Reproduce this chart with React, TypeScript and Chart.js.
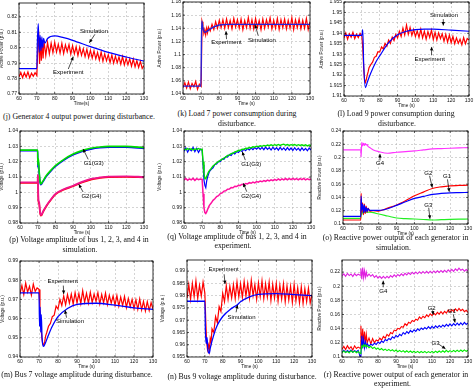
import React, { useEffect, useRef } from "react";
import { Chart, registerables } from "chart.js";
Chart.register(...registerables);
Chart.defaults.font.family = '"Liberation Sans", Arial, sans-serif';

// ---------- shared experiment time grid (s) ----------
const TE = [60, 61, 62, 63, 64, 65, 66, 67, 68, 69,
  70, 70.5, 71, 71.5, 72, 72.5, 73, 73.5, 74,
  75, 76, 77, 78, 79, 80, 81, 82, 83, 84,
  85, 86, 87, 88, 89, 90, 91, 92, 93, 94,
  95, 96, 97, 98, 99, 100, 101, 102, 103, 104,
  105, 106, 107, 108, 109, 110, 111, 112, 113, 114,
  115, 116, 117, 118, 119, 120, 121, 122, 123, 124,
  125, 126, 127, 128, 129, 130];

// ---------- (j) generator 4 output power ----------
const TS_J = [60, 70, 70.2, 70.8, 71.3, 71.8, 72.3, 72.8, 73.3, 73.8, 74.5, 76, 80, 85, 90, 100, 110, 120, 130];
const SIM_J = [0.7865, 0.7865, 0.800, 0.8157, 0.797, 0.808, 0.798, 0.807, 0.800, 0.806, 0.803, 0.806, 0.8077, 0.8065, 0.8048, 0.8007, 0.7970, 0.7940, 0.7913];
const EXP_J = [0.7812, 0.7840, 0.7806, 0.7838, 0.7810, 0.7843, 0.7804, 0.7835, 0.7815, 0.7838,
  0.7820, 0.8000, 0.8105, 0.7895, 0.8065, 0.7915, 0.8050, 0.7930, 0.8045,
  0.7950, 0.8035, 0.7960, 0.8030, 0.7968, 0.8034, 0.7972, 0.8022, 0.7965, 0.8028,
  0.7962, 0.8018, 0.7974, 0.8021, 0.7958, 0.8012, 0.7960, 0.8006, 0.7949, 0.8003,
  0.7951, 0.7994, 0.7942, 0.7990, 0.7936, 0.7983, 0.7933, 0.7980, 0.7928, 0.7969,
  0.7920, 0.7972, 0.7913, 0.7960, 0.7915, 0.7955, 0.7904, 0.7953, 0.7900, 0.7946,
  0.7902, 0.7941, 0.7893, 0.7943, 0.7888, 0.7932, 0.7889, 0.7928, 0.7880, 0.7926,
  0.7876, 0.7917, 0.7872, 0.7912, 0.7866, 0.7885];

// ---------- (k) load 7 ----------
const TS_K = [60, 69.9, 70.3, 71, 72, 73, 75, 77, 80, 85, 90, 130];
const SIM_K = [1.052, 1.052, 1.151, 1.140, 1.134, 1.135, 1.139, 1.142, 1.145, 1.146, 1.146, 1.146];
const EXP_K = [1.050, 1.057, 1.049, 1.058, 1.048, 1.056, 1.051, 1.059, 1.047, 1.055,
  1.052, 1.150, 1.143, 1.132, 1.138, 1.130, 1.140, 1.133, 1.142,
  1.136, 1.146, 1.138, 1.150, 1.140, 1.152, 1.141, 1.153, 1.140, 1.154,
  1.141, 1.152, 1.139, 1.155, 1.142, 1.153, 1.140, 1.154, 1.138, 1.152,
  1.141, 1.156, 1.140, 1.153, 1.139, 1.155, 1.141, 1.152, 1.138, 1.154,
  1.140, 1.153, 1.142, 1.156, 1.139, 1.152, 1.140, 1.155, 1.138, 1.153,
  1.141, 1.154, 1.139, 1.152, 1.140, 1.156, 1.138, 1.153, 1.141, 1.154,
  1.139, 1.152, 1.140, 1.155, 1.138, 1.150];

// ---------- (l) load 9 ----------
const TS_L = [60, 70, 70.5, 71, 72, 73, 75, 78, 80, 85, 90, 95, 100, 105, 110, 120, 130];
const SIM_L = [1.9390, 1.9390, 1.9418, 1.9260, 1.9140, 1.9165, 1.9210, 1.9265, 1.9292, 1.9355, 1.9393, 1.9410, 1.9418, 1.9420, 1.9420, 1.9415, 1.9410];
const EXP_L = [1.9378, 1.9402, 1.9372, 1.9398, 1.9381, 1.9405, 1.9375, 1.9396, 1.9380, 1.9400,
  1.9385, 1.9330, 1.9240, 1.9175, 1.9165, 1.9180, 1.9200, 1.9215, 1.9235,
  1.9250, 1.9262, 1.9285, 1.9290, 1.9312, 1.9310, 1.9335, 1.9325, 1.9352, 1.9338,
  1.9368, 1.9352, 1.9382, 1.9365, 1.9395, 1.9378, 1.9410, 1.9385, 1.9425, 1.9392,
  1.9440, 1.9395, 1.9428, 1.9390, 1.9418, 1.9385, 1.9412, 1.9380, 1.9420, 1.9378,
  1.9410, 1.9372, 1.9408, 1.9380, 1.9415, 1.9370, 1.9405, 1.9368, 1.9402, 1.9375,
  1.9398, 1.9362, 1.9395, 1.9358, 1.9392, 1.9355, 1.9385, 1.9350, 1.9378, 1.9352,
  1.9372, 1.9345, 1.9380, 1.9350, 1.9375, 1.9368];

// ---------- (p) bus voltages, simulation ----------
const TS_P = [60, 70, 70.05, 70.4, 70.8, 71.3, 71.7, 72.2, 73, 75, 77.5, 80, 85, 90, 95, 100, 105, 110, 120, 130];
const P_G1 = [1.0275, 1.0275, 1.018, 1.022, 1.014, 1.0075, 1.0055, 1.006, 1.0075, 1.0111, 1.0145, 1.0174, 1.0217, 1.025, 1.0272, 1.0287, 1.0296, 1.0300, 1.0300, 1.0291];
const P_G3 = [1.0272, 1.0272, 1.0165, 1.020, 1.0125, 1.0065, 1.005, 1.0055, 1.007, 1.0106, 1.014, 1.0169, 1.0212, 1.0245, 1.0267, 1.0282, 1.0291, 1.0295, 1.0295, 1.0286];
const P_G2 = [1.0065, 1.0065, 1.0115, 0.995, 0.9935, 0.9875, 0.9853, 0.9855, 0.9875, 0.9915, 0.9955, 0.999, 1.0022, 1.0043, 1.0068, 1.0087, 1.0097, 1.0103, 1.0104, 1.0100];
const P_G4 = [1.0062, 1.0062, 1.0105, 0.994, 0.9925, 0.9868, 0.9848, 0.9851, 0.9871, 0.9911, 0.9951, 0.9986, 1.0018, 1.0039, 1.0064, 1.0083, 1.0093, 1.0099, 1.0100, 1.0097];

// ---------- (q) bus voltages, experiment ----------
const Q_G1 = [1.0282, 1.0278, 1.0285, 1.0279, 1.0284, 1.0277, 1.0283, 1.0280, 1.0286, 1.0279,
  1.0281, 1.0200, 1.0120, 1.0090, 1.0088, 1.0105, 1.0118, 1.0132, 1.0141,
  1.0156, 1.0172, 1.0181, 1.0193, 1.0200, 1.0209, 1.0215, 1.0224, 1.0230, 1.0241,
  1.0243, 1.0253, 1.0255, 1.0263, 1.0266, 1.0274, 1.0273, 1.0281, 1.0280, 1.0287,
  1.0286, 1.0292, 1.0290, 1.0297, 1.0295, 1.0301, 1.0298, 1.0304, 1.0300, 1.0306,
  1.0302, 1.0308, 1.0304, 1.0310, 1.0305, 1.0311, 1.0306, 1.0312, 1.0306, 1.0311,
  1.0314, 1.0307, 1.0312, 1.0306, 1.0311, 1.0307, 1.0312, 1.0305, 1.0311, 1.0306,
  1.0310, 1.0304, 1.0310, 1.0303, 1.0309, 1.0305];
const Q_G3 = [1.0268, 1.0290, 1.0262, 1.0284, 1.0271, 1.0293, 1.0265, 1.0287, 1.0260, 1.0282,
  1.0275, 1.0180, 1.0080, 1.0045, 1.0030, 1.0075, 1.0100, 1.0118, 1.0135,
  1.0150, 1.0160, 1.0182, 1.0185, 1.0202, 1.0200, 1.0218, 1.0215, 1.0233, 1.0230,
  1.0246, 1.0240, 1.0257, 1.0250, 1.0266, 1.0260, 1.0274, 1.0266, 1.0281, 1.0272,
  1.0286, 1.0276, 1.0289, 1.0279, 1.0292, 1.0281, 1.0294, 1.0280, 1.0293, 1.0278,
  1.0295, 1.0280, 1.0292, 1.0276, 1.0294, 1.0279, 1.0291, 1.0275, 1.0293, 1.0277,
  1.0290, 1.0274, 1.0292, 1.0276, 1.0289, 1.0273, 1.0291, 1.0275, 1.0288, 1.0272,
  1.0290, 1.0274, 1.0287, 1.0271, 1.0289, 1.0276];
const Q_G2 = [1.0082, 1.0090, 1.0079, 1.0088, 1.0081, 1.0091, 1.0078, 1.0089, 1.0083, 1.0087,
  1.0084, 0.9990, 0.9900, 0.9868, 0.9862, 0.9872, 0.9888, 0.9902, 0.9915,
  0.9930, 0.9948, 0.9958, 0.9972, 0.9978, 0.9992, 0.9996, 1.0008, 1.0010, 1.0020,
  1.0021, 1.0031, 1.0030, 1.0040, 1.0038, 1.0046, 1.0045, 1.0053, 1.0050, 1.0058,
  1.0055, 1.0063, 1.0059, 1.0067, 1.0062, 1.0070, 1.0066, 1.0074, 1.0069, 1.0077,
  1.0072, 1.0080, 1.0074, 1.0082, 1.0076, 1.0084, 1.0078, 1.0087, 1.0080, 1.0088,
  1.0081, 1.0090, 1.0082, 1.0089, 1.0083, 1.0091, 1.0083, 1.0090, 1.0082, 1.0089,
  1.0083, 1.0091, 1.0081, 1.0088, 1.0082, 1.0087];

// ---------- (o) reactive power, simulation ----------
const TS_O = [60, 70, 70.15, 70.5, 71, 71.5, 72, 72.5, 73, 73.5, 74, 75, 77, 80, 85, 90, 95, 100, 105, 110, 115, 120, 125, 130];
const O_G1 = [0.1115, 0.1115, 0.142, 0.121, 0.130, 0.117, 0.128, 0.118, 0.125, 0.119, 0.123, 0.1205, 0.1205, 0.1205, 0.123, 0.128, 0.1335, 0.1385, 0.1415, 0.1445, 0.146, 0.147, 0.1473, 0.1475];
const O_G2 = [0.106, 0.106, 0.146, 0.118, 0.132, 0.114, 0.130, 0.116, 0.127, 0.118, 0.124, 0.1195, 0.120, 0.1195, 0.124, 0.1285, 0.135, 0.1425, 0.148, 0.1535, 0.156, 0.1575, 0.158, 0.1585];
const O_G3 = [0.1085, 0.1085, 0.122, 0.114, 0.1195, 0.116, 0.119, 0.117, 0.1185, 0.1175, 0.118, 0.118, 0.117, 0.115, 0.112, 0.109, 0.108, 0.1075, 0.1068, 0.106, 0.1065, 0.107, 0.1073, 0.1075];
const O_G4 = [0.2115, 0.2115, 0.201, 0.223, 0.2175, 0.2215, 0.2185, 0.221, 0.219, 0.2195, 0.217, 0.215, 0.2115, 0.209, 0.2065, 0.208, 0.209, 0.210, 0.2115, 0.213, 0.2135, 0.214, 0.2145, 0.215];

// ---------- (m) bus 7 voltage ----------
const TS_M = [60, 70, 70.3, 70.6, 70.9, 71.2, 71.6, 72.3, 73, 75, 77, 80, 85, 90, 100, 110, 120, 130];
const SIM_M = [0.9734, 0.9734, 0.956, 0.966, 0.953, 0.962, 0.950, 0.9455, 0.9465, 0.9515, 0.956, 0.961, 0.9653, 0.9674, 0.968, 0.967, 0.9656, 0.9648];
const EXP_M = [0.9730, 0.9772, 0.9725, 0.9785, 0.9738, 0.9768, 0.9722, 0.9780, 0.9742, 0.9760,
  0.9752, 0.9650, 0.9560, 0.9500, 0.9470, 0.9462, 0.9480, 0.9510, 0.9525,
  0.9560, 0.9575, 0.9610, 0.9618, 0.9665, 0.9650, 0.9700, 0.9668, 0.9718, 0.9672,
  0.9725, 0.9680, 0.9728, 0.9675, 0.9735, 0.9682, 0.9730, 0.9678, 0.9745, 0.9685,
  0.9732, 0.9680, 0.9738, 0.9684, 0.9728, 0.9690, 0.9735, 0.9676, 0.9726, 0.9682,
  0.9733, 0.9674, 0.9722, 0.9680, 0.9718, 0.9670, 0.9720, 0.9665, 0.9712, 0.9668,
  0.9715, 0.9658, 0.9705, 0.9662, 0.9700, 0.9652, 0.9698, 0.9648, 0.9702, 0.9645,
  0.9690, 0.9640, 0.9688, 0.9642, 0.9683, 0.9650];

// ---------- (n) bus 9 voltage ----------
const TS_N = [60, 70, 70.3, 70.7, 71.2, 71.7, 72.5, 73, 75, 77, 80, 85, 88, 90, 95, 100, 110, 120, 130];
const SIM_N = [0.9777, 0.9777, 0.966, 0.9605, 0.963, 0.958, 0.9565, 0.9585, 0.9640, 0.9680, 0.9715, 0.9748, 0.9762, 0.9775, 0.9795, 0.9805, 0.9808, 0.9804, 0.9800];
const EXP_N = [0.9790, 0.9845, 0.9785, 0.9850, 0.9795, 0.9860, 0.9788, 0.9842, 0.9798, 0.9855,
  0.9810, 0.9700, 0.9610, 0.9580, 0.9598, 0.9575, 0.9625, 0.9610, 0.9665,
  0.9650, 0.9715, 0.9690, 0.9755, 0.9735, 0.9810, 0.9775, 0.9840, 0.9785, 0.9838,
  0.9790, 0.9845, 0.9788, 0.9855, 0.9795, 0.9848, 0.9792, 0.9858, 0.9798, 0.9850,
  0.9790, 0.9862, 0.9800, 0.9845, 0.9785, 0.9852, 0.9796, 0.9860, 0.9788, 0.9848,
  0.9794, 0.9855, 0.9780, 0.9846, 0.9790, 0.9850, 0.9778, 0.9842, 0.9786, 0.9848,
  0.9775, 0.9840, 0.9782, 0.9838, 0.9772, 0.9845, 0.9778, 0.9832, 0.9770, 0.9836,
  0.9768, 0.9828, 0.9775, 0.9830, 0.9770, 0.9805];

// ---------- (r) reactive power, experiment ----------
const R_G2 = [0.1110, 0.1150, 0.1105, 0.1160, 0.1115, 0.1145, 0.1100, 0.1158, 0.1120, 0.1140,
  0.1125, 0.1440, 0.1180, 0.1400, 0.1200, 0.1360, 0.1190, 0.1320, 0.1200,
  0.1270, 0.1185, 0.1260, 0.1200, 0.1240, 0.1225, 0.1265, 0.1240, 0.1290, 0.1265,
  0.1320, 0.1295, 0.1345, 0.1330, 0.1380, 0.1370, 0.1405, 0.1395, 0.1430, 0.1420,
  0.1470, 0.1445, 0.1490, 0.1475, 0.1515, 0.1500, 0.1535, 0.1520, 0.1565, 0.1540,
  0.1575, 0.1555, 0.1595, 0.1570, 0.1610, 0.1585, 0.1620, 0.1595, 0.1630, 0.1605,
  0.1640, 0.1610, 0.1645, 0.1620, 0.1665, 0.1635, 0.1670, 0.1645, 0.1680, 0.1650,
  0.1685, 0.1655, 0.1675, 0.1640, 0.1660, 0.1630];
const R_G1 = [0.1070, 0.1095, 0.1065, 0.1092, 0.1072, 0.1098, 0.1068, 0.1090, 0.1075, 0.1094,
  0.1010, 0.1000, 0.1300, 0.1120, 0.1250, 0.1130, 0.1210, 0.1140, 0.1190,
  0.1150, 0.1180, 0.1165, 0.1195, 0.1178, 0.1210, 0.1192, 0.1225, 0.1205, 0.1248,
  0.1230, 0.1262, 0.1245, 0.1285, 0.1265, 0.1305, 0.1282, 0.1320, 0.1300, 0.1345,
  0.1322, 0.1358, 0.1335, 0.1375, 0.1350, 0.1385, 0.1362, 0.1398, 0.1375, 0.1410,
  0.1388, 0.1415, 0.1395, 0.1428, 0.1400, 0.1432, 0.1408, 0.1440, 0.1415, 0.1445,
  0.1420, 0.1452, 0.1428, 0.1460, 0.1435, 0.1468, 0.1440, 0.1472, 0.1445, 0.1478,
  0.1450, 0.1482, 0.1455, 0.1490, 0.1460, 0.1480];
const R_G3 = [0.1060, 0.1085, 0.1062, 0.1080, 0.1058, 0.1088, 0.1065, 0.1082, 0.1060, 0.1078,
  0.1050, 0.1080, 0.1160, 0.1140, 0.1175, 0.1150, 0.1170, 0.1145, 0.1160,
  0.1130, 0.1150, 0.1120, 0.1138, 0.1110, 0.1128, 0.1102, 0.1120, 0.1095, 0.1112,
  0.1090, 0.1108, 0.1086, 0.1102, 0.1080, 0.1098, 0.1075, 0.1094, 0.1072, 0.1090,
  0.1068, 0.1088, 0.1066, 0.1085, 0.1064, 0.1082, 0.1062, 0.1080, 0.1060, 0.1078,
  0.1061, 0.1079, 0.1058, 0.1077, 0.1062, 0.1080, 0.1060, 0.1082, 0.1064, 0.1085,
  0.1066, 0.1088, 0.1068, 0.1095, 0.1070, 0.1090, 0.1072, 0.1094, 0.1074, 0.1096,
  0.1076, 0.1098, 0.1078, 0.1100, 0.1080, 0.1095];
const R_G4 = [0.2145, 0.2175, 0.2140, 0.2180, 0.2150, 0.2172, 0.2138, 0.2178, 0.2148, 0.2170,
  0.2155, 0.2250, 0.2100, 0.2265, 0.2120, 0.2220, 0.2130, 0.2200, 0.2140,
  0.2170, 0.2140, 0.2165, 0.2125, 0.2150, 0.2115, 0.2140, 0.2110, 0.2138, 0.2112,
  0.2140, 0.2118, 0.2150, 0.2128, 0.2160, 0.2135, 0.2165, 0.2145, 0.2175, 0.2150,
  0.2182, 0.2160, 0.2190, 0.2165, 0.2195, 0.2172, 0.2200, 0.2175, 0.2205, 0.2180,
  0.2208, 0.2182, 0.2210, 0.2185, 0.2212, 0.2188, 0.2215, 0.2190, 0.2218, 0.2195,
  0.2222, 0.2198, 0.2225, 0.2200, 0.2230, 0.2205, 0.2238, 0.2210, 0.2245, 0.2220,
  0.2255, 0.2225, 0.2240, 0.2212, 0.2235, 0.2215];

// ---------- types ----------
type Line = { x: number[]; y: number[]; color: string; width: number; smooth?: boolean };
type Note = { text: string; tx: number; ty: number; ax: number; ay: number; hx: number; hy: number };
type PanelDef = {
  box: [number, number, number, number];
  yw: number;
  yr: [number, number, number];
  yTitle: string;
  xTitle: string;
  lines: Line[];
  notes: Note[];
};

const RED = "#ff0000";
const BLUE = "#0000ff";
const GREEN = "#00dd00";
const EW = 1.2;

const PANELS: PanelDef[] = [
  {
    box: [19, 3, 144, 94], yw: 20, yr: [0.77, 0.829, 0.01], yTitle: "Active Power (p.u.)", xTitle: "Time(s)",
    lines: [
      { x: TS_J, y: SIM_J, color: BLUE, width: 1.2, smooth: true },
      { x: TE, y: EXP_J, color: RED, width: EW },
    ],
    notes: [
      { text: "Simulation", tx: 102, ty: 0.8103, ax: 102.5, ay: 0.8087, hx: 99.4, hy: 0.8032 },
      { text: "Experiment", tx: 87.6, ty: 0.7839, ax: 87.6, ay: 0.7862, hx: 90.4, hy: 0.7942 },
    ],
  },
  {
    box: [183, 2, 310, 94], yw: 26, yr: [1.04, 1.18, 0.02], yTitle: "Active Power (p.u.)", xTitle: "Time (s)",
    lines: [
      { x: TS_K, y: SIM_K, color: "#2222dd", width: 1.4, smooth: true },
      { x: TE, y: EXP_K, color: RED, width: EW },
    ],
    notes: [
      { text: "Experiment", tx: 84, ty: 1.118, ax: 84, ay: 1.1235, hx: 83.7, hy: 1.1355 },
      { text: "Simulation", tx: 103.5, ty: 1.1215, ax: 101.5, ay: 1.1285, hx: 99.7, hy: 1.1455 },
    ],
  },
  {
    box: [344, 2, 469, 96], yw: 25, yr: [1.91, 1.955, 0.005], yTitle: "Active Power (p.u.)", xTitle: "Time (s)",
    lines: [
      { x: TS_L, y: SIM_L, color: BLUE, width: 1.2, smooth: true },
      { x: TE, y: EXP_L, color: RED, width: EW },
    ],
    notes: [
      { text: "Simulation", tx: 116, ty: 1.9487, ax: 115.6, ay: 1.9468, hx: 115.6, hy: 1.9437 },
      { text: "Experiment", tx: 108, ty: 1.9274, ax: 109, ay: 1.9295, hx: 109.1, hy: 1.9335 },
    ],
  },
  {
    box: [20, 131, 144, 223], yw: 21, yr: [0.98, 1.04, 0.01], yTitle: "Voltage (p.u.)", xTitle: "Time (s)",
    lines: [
      { x: TS_P, y: P_G2, color: "#f0148c", width: 1.8, smooth: true },
      { x: TS_P, y: P_G4, color: RED, width: 1.6, smooth: true },
      { x: TS_P, y: P_G1, color: GREEN, width: 1.6, smooth: true },
      { x: TS_P, y: P_G3, color: BLUE, width: 1.6, smooth: true },
    ],
    notes: [
      { text: "G1(G3)", tx: 101.6, ty: 1.0192, ax: 98.5, ay: 1.0215, hx: 95.6, hy: 1.0283 },
      { text: "G2(G4)", tx: 100.3, ty: 0.9973, ax: 95.6, ay: 1.0002, hx: 93.2, hy: 1.0053 },
    ],
  },
  {
    box: [184, 131, 311, 223], yw: 27, yr: [0.98, 1.04, 0.01], yTitle: "Voltage (p.u.)", xTitle: "Time (s)",
    lines: [
      { x: TE, y: Q_G2, color: "#ff10a0", width: 1.5 },
      { x: TE, y: Q_G1, color: GREEN, width: 1.4 },
      { x: TE, y: Q_G3, color: BLUE, width: 1.2 },
    ],
    notes: [
      { text: "G1(G3)", tx: 97, ty: 1.0183, ax: 93.8, ay: 1.021, hx: 92.1, hy: 1.0265 },
      { text: "G2(G4)", tx: 97, ty: 0.9971, ax: 94.6, ay: 1.0004, hx: 92.7, hy: 1.0059 },
    ],
  },
  {
    box: [343, 131, 468, 224], yw: 26, yr: [0.1, 0.24, 0.02], yTitle: "Reactive Power (p.u.)", xTitle: "Time (s)",
    lines: [
      { x: TS_O, y: O_G4, color: "#ff33ff", width: 1.2, smooth: true },
      { x: TS_O, y: O_G1, color: BLUE, width: 1.2, smooth: true },
      { x: TS_O, y: O_G2, color: RED, width: 1.2, smooth: true },
      { x: TS_O, y: O_G3, color: "#22ee22", width: 1.2, smooth: true },
    ],
    notes: [
      { text: "G4", tx: 80.7, ty: 0.1914, ax: 80.7, ay: 0.1955, hx: 80.7, hy: 0.2055 },
      { text: "G2", tx: 107.8, ty: 0.1763, ax: 108.5, ay: 0.1725, hx: 110, hy: 0.1548 },
      { text: "G1", tx: 118.3, ty: 0.1713, ax: 118.5, ay: 0.1672, hx: 119.5, hy: 0.1485 },
      { text: "G3", tx: 107.8, ty: 0.1286, ax: 108, ay: 0.1245, hx: 108.7, hy: 0.1078 },
    ],
  },
  {
    box: [20, 261, 153, 357], yw: 20, yr: [0.94, 0.99, 0.01], yTitle: "Voltage (p.u.)", xTitle: "Time (s)",
    lines: [
      { x: TS_M, y: SIM_M, color: BLUE, width: 1.3, smooth: true },
      { x: TE, y: EXP_M, color: RED, width: EW },
    ],
    notes: [
      { text: "Experiment", tx: 82.5, ty: 0.9793, ax: 82.8, ay: 0.9772, hx: 83, hy: 0.9728 },
      { text: "Simulation", tx: 86.3, ty: 0.9586, ax: 84.5, ay: 0.9605, hx: 83.7, hy: 0.9644 },
    ],
  },
  {
    box: [187, 260, 312, 357], yw: 27, yr: [0.955, 0.9945, 0.005], yTitle: "Voltage (p.u.)", xTitle: "Time (s)",
    lines: [
      { x: TS_N, y: SIM_N, color: BLUE, width: 1.3, smooth: true },
      { x: TE, y: EXP_N, color: RED, width: EW },
    ],
    notes: [
      { text: "Experiment", tx: 80.5, ty: 0.9905, ax: 80.8, ay: 0.9887, hx: 81.3, hy: 0.9847 },
      { text: "Simulation", tx: 90.5, ty: 0.9711, ax: 87.5, ay: 0.9732, hx: 88.3, hy: 0.9762 },
    ],
  },
  {
    box: [342, 260, 468, 357], yw: 25, yr: [0.1, 0.237, 0.02], yTitle: "Reactive Power (p.u.)", xTitle: "Time (s)",
    lines: [
      { x: TE, y: R_G4, color: "#e020e0", width: 1.1 },
      { x: TE, y: R_G3, color: "#00ee00", width: 1.1 },
      { x: TE, y: R_G1, color: BLUE, width: 1.1 },
      { x: TE, y: R_G2, color: RED, width: 1.1 },
    ],
    notes: [
      { text: "G4", tx: 82.9, ty: 0.1928, ax: 82.9, ay: 0.1985, hx: 82.9, hy: 0.2078 },
      { text: "G2", tx: 109.8, ty: 0.1692, ax: 110.3, ay: 0.1658, hx: 110.7, hy: 0.1597 },
      { text: "G1", tx: 121, ty: 0.1645, ax: 121.8, ay: 0.1605, hx: 122.8, hy: 0.1487 },
      { text: "G3", tx: 112, ty: 0.1198, ax: 114, ay: 0.1177, hx: 117.5, hy: 0.1115 },
    ],
  },
];

type Cap = { text: string; cx: number; cy: number };
const CAPTIONS: Cap[] = [
  { text: "(j) Generator 4 output power during disturbance.", cx: 79, cy: 116.5 },
  { text: "(k) Load 7 power consumption during", cx: 237, cy: 113.5 },
  { text: "disturbance.", cx: 237, cy: 124 },
  { text: "(l) Load 9 power consumption during", cx: 396, cy: 114 },
  { text: "disturbance.", cx: 397, cy: 124 },
  { text: "(p) Voltage amplitude of bus 1, 2, 3, and 4 in", cx: 79, cy: 240 },
  { text: "simulation.", cx: 80, cy: 249.5 },
  { text: "(q) Voltage amplitude of bus 1, 2, 3, and 4 in", cx: 237, cy: 236.7 },
  { text: "experiment.", cx: 233, cy: 245.7 },
  { text: "(o) Reactive power output of each generator in", cx: 395.5, cy: 238.3 },
  { text: "simulation.", cx: 393.5, cy: 247.7 },
  { text: "(m) Bus 7 voltage amplitude during disturbance.", cx: 77, cy: 375.3 },
  { text: "(n) Bus 9 voltage amplitude during disturbance.", cx: 242, cy: 377 },
  { text: "(r) Reactive power output of each generator in", cx: 396, cy: 374.7 },
  { text: "experiment.", cx: 392.5, cy: 384 },
];

const PT = 6, PR = 10, XH = 14;
const TICK_FONT = { size: 5, family: '"Liberation Sans", Arial, sans-serif' };
const TITLE_FONT = { size: 4.6, family: '"Liberation Sans", Arial, sans-serif' };

function Panel({ def }: { def: PanelDef }) {
  const ref = useRef<HTMLCanvasElement>(null);
  const [L, T, R, B] = def.box;
  const YW = def.yw;
  const left = L - YW, top = T - PT;
  const w = R - L + YW + PR, h = B - T + PT + XH;
  useEffect(() => {
    const notes = def.notes;
    const deco = {
      id: "deco",
      afterDatasetsDraw(chart: any) {
        const { ctx, chartArea: a, scales } = chart;
        const xs = scales.x, ys = scales.y;
        ctx.save();
        ctx.strokeStyle = "#000";
        ctx.lineWidth = 0.8;
        ctx.strokeRect(a.left, a.top, a.right - a.left, a.bottom - a.top);
        ctx.lineWidth = 0.6;
        ctx.beginPath();
        for (const t of xs.ticks) {
          const px = xs.getPixelForValue(t.value);
          ctx.moveTo(px, a.bottom); ctx.lineTo(px, a.bottom - 2);
          ctx.moveTo(px, a.top); ctx.lineTo(px, a.top + 2);
        }
        for (const t of ys.ticks) {
          const py = ys.getPixelForValue(t.value);
          ctx.moveTo(a.left, py); ctx.lineTo(a.left + 2, py);
          ctx.moveTo(a.right, py); ctx.lineTo(a.right - 2, py);
        }
        ctx.stroke();
        ctx.fillStyle = "#000";
        ctx.font = '6px "Liberation Sans", Arial, sans-serif';
        ctx.textAlign = "center";
        ctx.textBaseline = "middle";
        ctx.lineWidth = 0.7;
        for (const n of notes) {
          ctx.fillText(n.text, xs.getPixelForValue(n.tx), ys.getPixelForValue(n.ty));
          const x0 = xs.getPixelForValue(n.ax), y0 = ys.getPixelForValue(n.ay);
          const x1 = xs.getPixelForValue(n.hx), y1 = ys.getPixelForValue(n.hy);
          ctx.beginPath(); ctx.moveTo(x0, y0); ctx.lineTo(x1, y1); ctx.stroke();
          const ang = Math.atan2(y1 - y0, x1 - x0);
          const len = 3.5, hw = 1.7;
          const c = Math.cos(ang), s = Math.sin(ang);
          ctx.beginPath();
          ctx.moveTo(x1, y1);
          ctx.lineTo(x1 - len * c + hw * s, y1 - len * s - hw * c);
          ctx.lineTo(x1 - len * c - hw * s, y1 - len * s + hw * c);
          ctx.closePath();
          ctx.fill();
        }
        ctx.restore();
      },
    };
    const chart = new Chart(ref.current as HTMLCanvasElement, {
      type: "line",
      data: {
        datasets: def.lines.map((l) => ({
          data: l.x.map((x, i) => ({ x, y: l.y[i] })),
          borderColor: l.color,
          borderWidth: l.width,
          pointRadius: 0,
          fill: false,
          tension: 0,
          cubicInterpolationMode: l.smooth ? "monotone" : "default",
        })),
      } as any,
      options: {
        responsive: false,
        animation: false,
        devicePixelRatio: 1,
        events: [],
        layout: { padding: { top: PT, right: PR, left: 0, bottom: 0 } },
        plugins: { legend: { display: false }, tooltip: { enabled: false } },
        scales: {
          x: {
            type: "linear", min: 60, max: 130,
            afterFit: (s: any) => { s.height = XH; },
            ticks: { stepSize: 10, padding: 1.5, font: TICK_FONT, color: "#111", maxRotation: 0, autoSkip: false, includeBounds: false },
            grid: { color: "#b8b8b8", lineWidth: 0.6, drawTicks: false },
            border: { display: false, dash: [2, 2] },
            title: { display: true, text: def.xTitle, font: TITLE_FONT, color: "#111", padding: { top: 0, bottom: 1.25 } },
          },
          y: {
            type: "linear", min: def.yr[0], max: def.yr[1],
            afterFit: (s: any) => { s.width = YW; },
            ticks: {
              stepSize: def.yr[2], padding: 2, font: TICK_FONT, color: "#111", autoSkip: false, includeBounds: false,
              callback: (v: any) => String(Math.round(Number(v) * 10000) / 10000),
            },
            grid: { color: "#b8b8b8", lineWidth: 0.6, drawTicks: false },
            border: { display: false, dash: [2, 2] },
            title: { display: true, text: def.yTitle, font: TITLE_FONT, color: "#111", padding: { top: 0, bottom: 0 } },
          },
        },
      } as any,
      plugins: [deco],
    });
    return () => chart.destroy();
  }, []);
  return (
    <canvas
      ref={ref}
      width={w}
      height={h}
      style={{ position: "absolute", left, top, width: w, height: h }}
    />
  );
}

export default function App() {
  return (
    <div style={{ position: "absolute", left: 0, top: 0, width: 474, height: 388, overflow: "hidden", background: "#fff" }}>
      {PANELS.map((p, i) => <Panel key={i} def={p} />)}
      {CAPTIONS.map((c, i) => (
        <div
          key={"c" + i}
          style={{
            position: "absolute", left: c.cx, top: c.cy - 5, height: 10, lineHeight: "10px",
            transform: "translateX(-50%)", whiteSpace: "nowrap",
            fontFamily: '"Liberation Serif", "Times New Roman", serif', fontSize: 7.8, color: "#111",
          }}
        >
          {c.text}
        </div>
      ))}
    </div>
  );
}
